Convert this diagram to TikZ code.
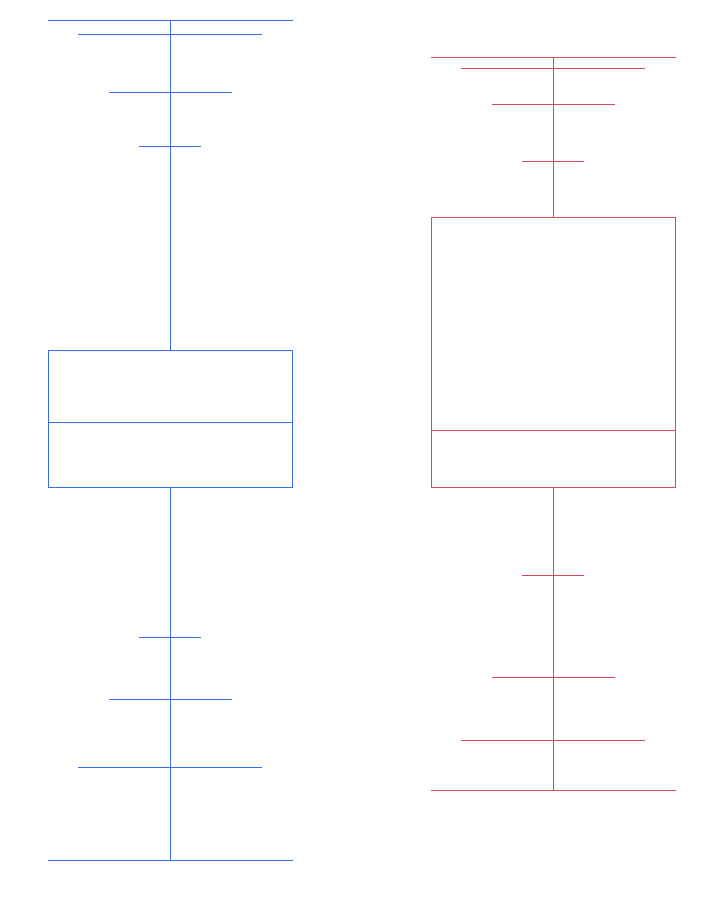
\documentclass[tikz,border=0pt]{standalone}
\begin{document}
\begin{tikzpicture}[x=1pt,y=-1pt,
  bl/.style={draw={rgb,255:red,59;green,110;blue,228},line width=0.9pt},
  rd/.style={draw={rgb,255:red,214;green,70;blue,86},line width=0.9pt}]
\useasboundingbox (0,0) rectangle (719,899);
% left plot
\draw[bl] (48,20.5) -- (293,20.5);
\draw[bl] (78,34.5) -- (262,34.5);
\draw[bl] (109,92.5) -- (232,92.5);
\draw[bl] (139,146.5) -- (201,146.5);
\draw[bl] (170.5,20.5) -- (170.5,350.5);
\draw[bl] (48.5,350.5) rectangle (292.5,487.5);
\draw[bl] (48.5,422.5) -- (292.5,422.5);
\draw[bl] (170.5,487.5) -- (170.5,860.5);
\draw[bl] (139,637) -- (201,637);
\draw[bl] (109,699.5) -- (232,699.5);
\draw[bl] (78,767.5) -- (262,767.5);
\draw[bl] (48,860.5) -- (293,860.5);
% right plot
\draw[rd] (431,57.5) -- (676,57.5);
\draw[rd] (461,68.5) -- (645,68.5);
\draw[rd] (492,104.5) -- (615,104.5);
\draw[rd] (522,161.5) -- (584,161.5);
\draw[rd] (553.5,57.5) -- (553.5,217.5);
\draw[rd] (431.5,217.5) rectangle (675.5,487.5);
\draw[rd] (431.5,430.5) -- (675.5,430.5);
\draw[rd] (553.5,487.5) -- (553.5,790.5);
\draw[rd] (522,575.5) -- (584,575.5);
\draw[rd] (492,677.5) -- (615,677.5);
\draw[rd] (461,740.5) -- (645,740.5);
\draw[rd] (431,790.5) -- (676,790.5);
\end{tikzpicture}
\end{document}
